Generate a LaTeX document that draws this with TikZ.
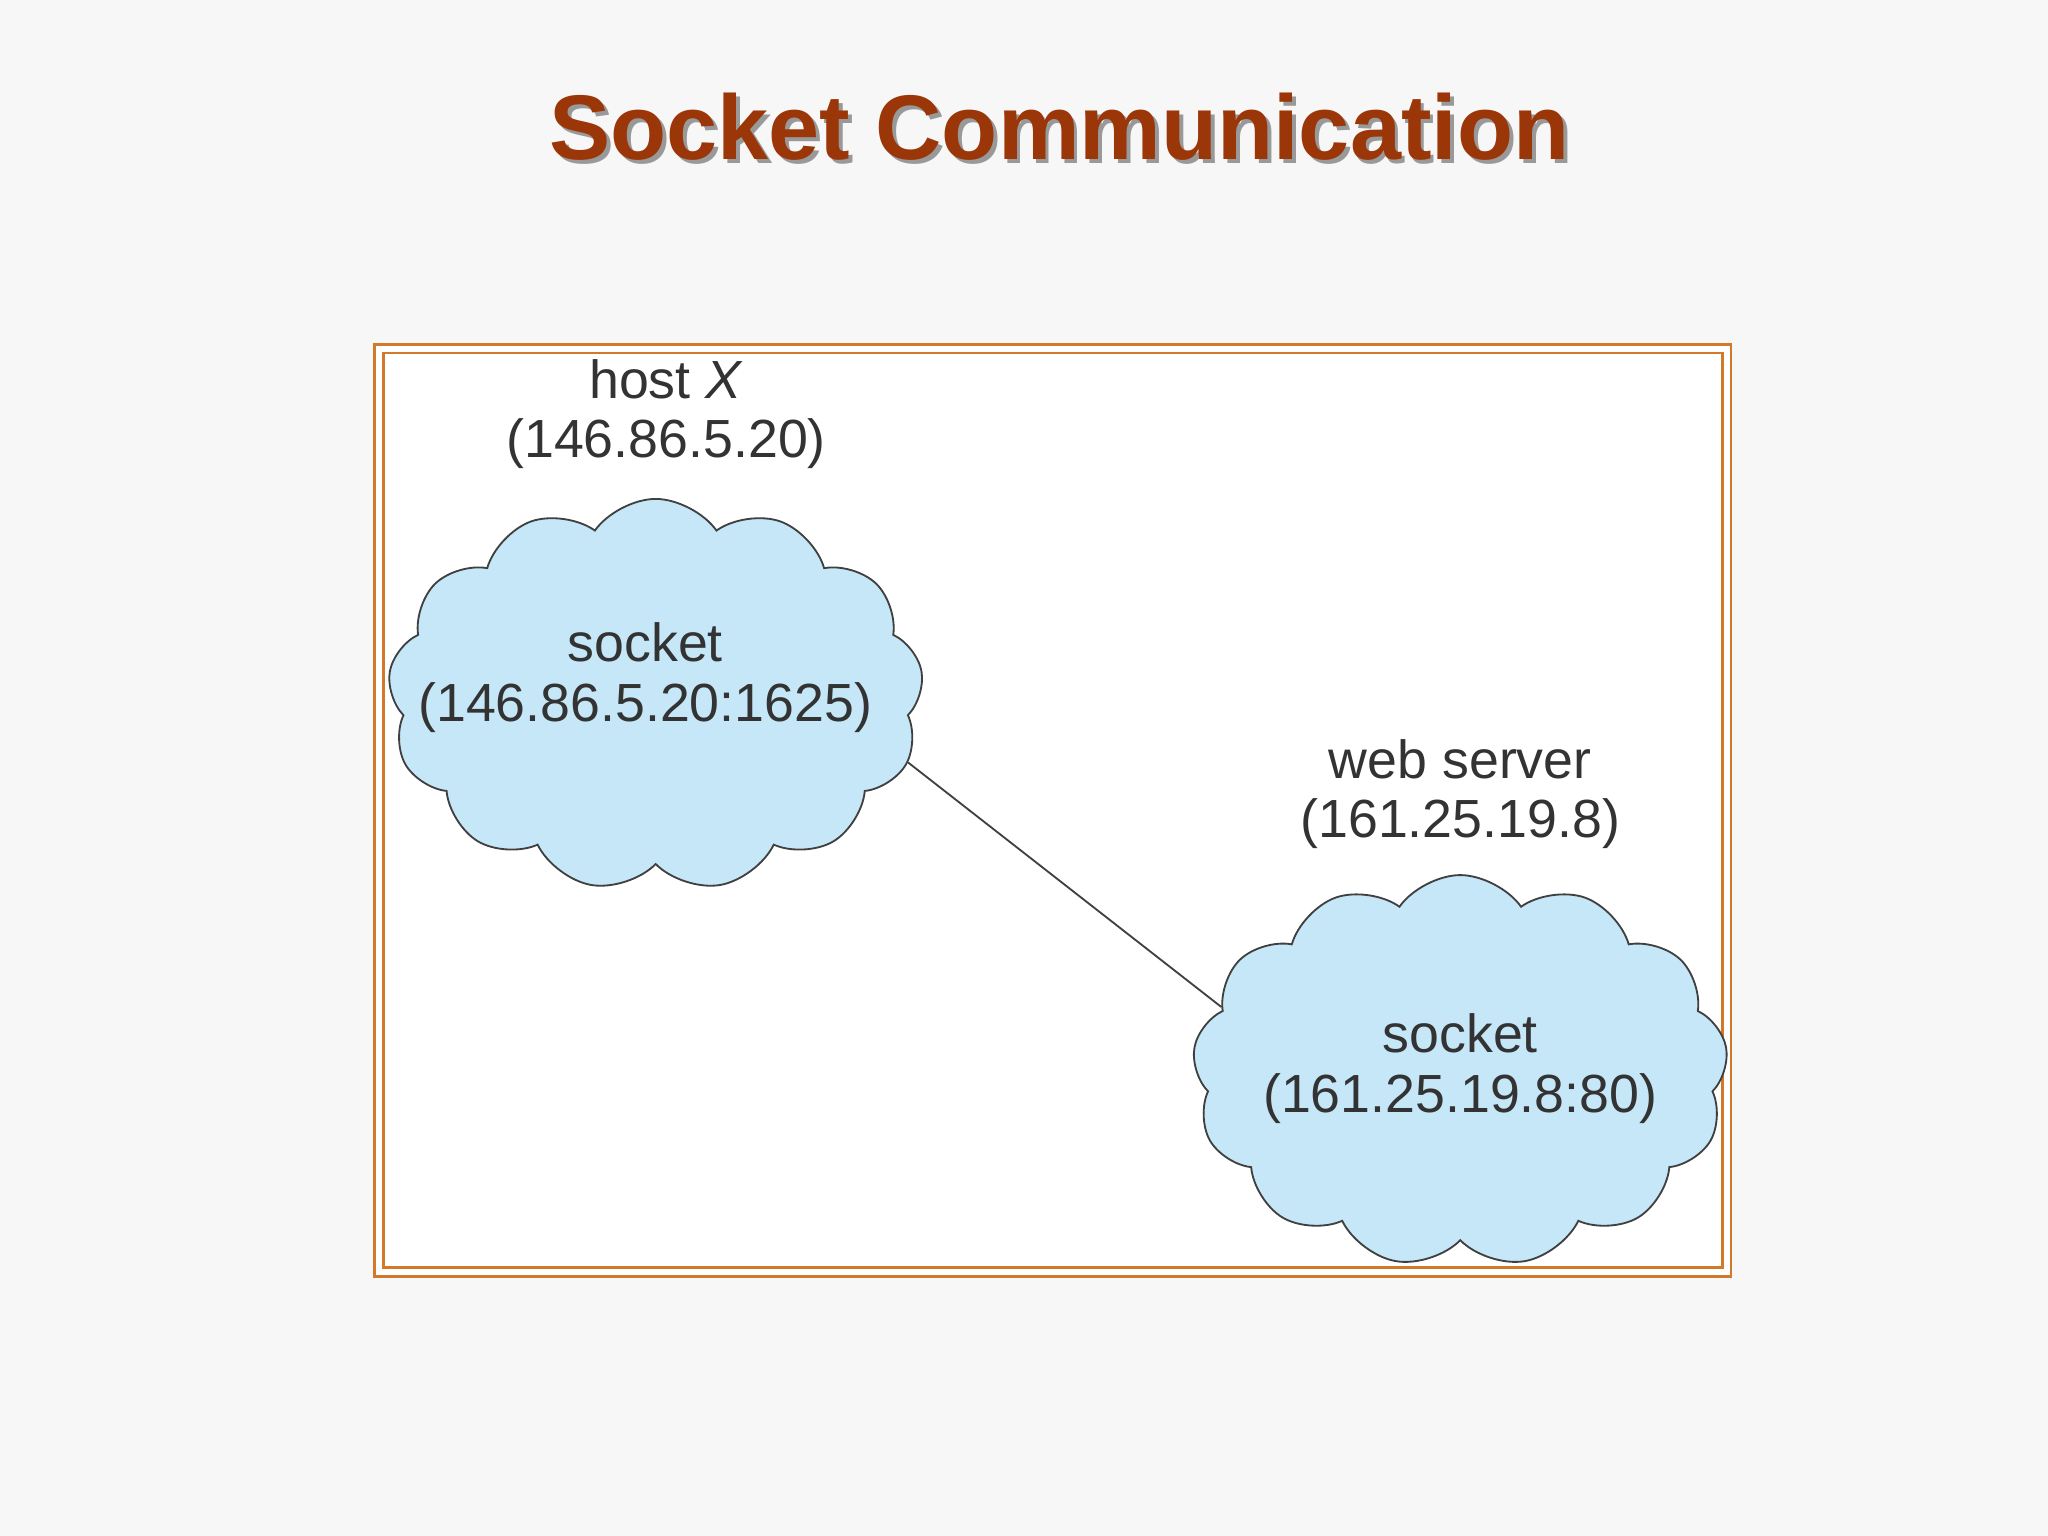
\documentclass[tikz,border=0pt]{standalone}
\usepackage{fontspec}
\setmainfont{Liberation Sans}
\usetikzlibrary{shapes.symbols}
\definecolor{titlebrown}{HTML}{9A3608}
\definecolor{frameorange}{HTML}{D07A2A}
\definecolor{cloudblue}{HTML}{C6E7F8}
\definecolor{labelgray}{HTML}{333333}
\tikzset{
  puff/.style={cloud, cloud puffs=13, cloud puff arc=110, aspect=1.35, draw=black!75,
    fill=cloudblue, minimum width=4.1cm, minimum height=3.0cm, inner sep=0pt},
  sock/.style={align=center, text=labelgray, font=\fontsize{11.7}{13}\selectfont},
  hostlbl/.style={align=center, text=labelgray, font=\fontsize{11.7}{13}\selectfont}
}

\begin{document}
\begin{tikzpicture}
    \useasboundingbox[fill=black!3] (0,0) rectangle (15.68,11.76);
    % title
    \node (title) [text=black!40,font=\fontsize{20}{24}\bfseries\selectfont] at (8.14,10.76) {Socket Communication};
    \node [text=titlebrown,font=\fontsize{20}{24}\bfseries\selectfont] at ([shift={(-0.03,0.03)}]title) {Socket Communication};

    % frame
    \draw [frameorange,fill=white,line width=0.6pt,double=white,double distance=1.3pt] (2.90,2.02) rectangle (13.22,9.09);

    \node (hostX) [hostlbl] at (5.10,8.59) {host \textit{X}\\(146.86.5.20)};
    \node (cloudX) [puff] at (5.02,6.44) {};
    \node (sockX) [sock] at (4.94,6.57) {socket\\(146.86.5.20:1625)};

    \node (web) [hostlbl] at (11.18,5.68) {web server\\(161.25.19.8)};
    \node (cloudW) [puff] at (11.18,3.56) {};
    \node (sockW) [sock] at (11.18,3.58) {socket\\(161.25.19.8:80)};

    \draw [black!75] (cloudX.-15) -- (cloudW.165);
\end{tikzpicture}
\end{document}
